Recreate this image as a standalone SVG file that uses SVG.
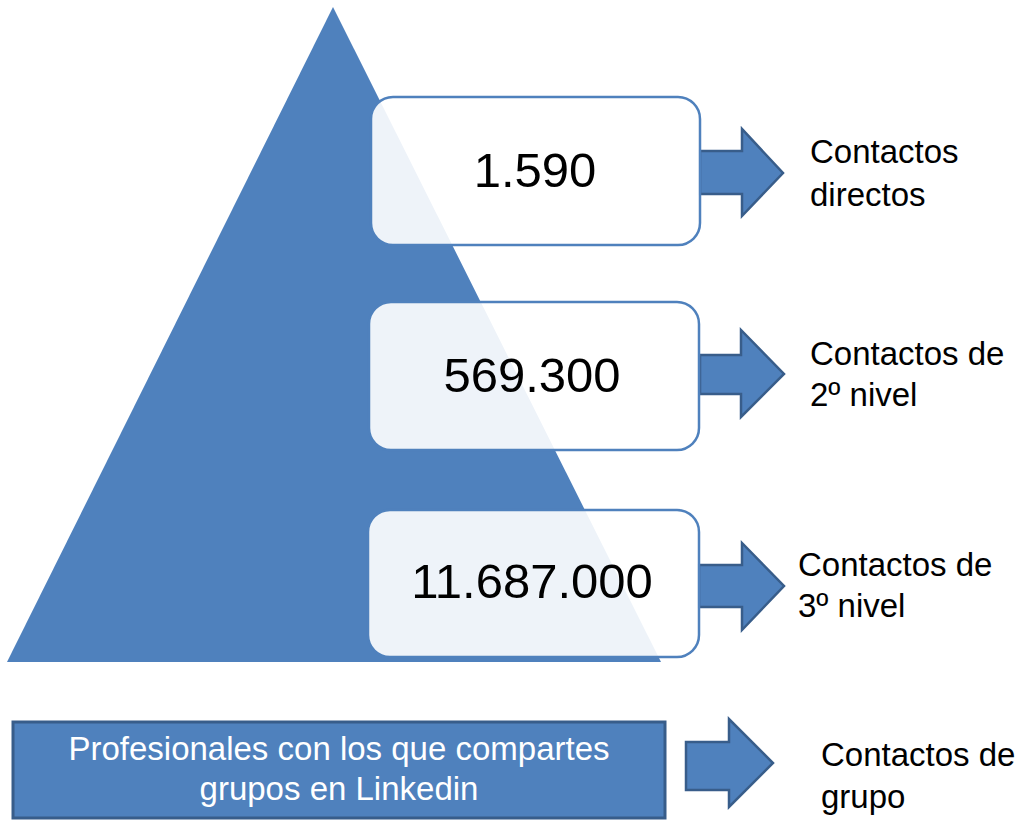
<svg xmlns="http://www.w3.org/2000/svg" width="1018" height="820" viewBox="0 0 1018 820">
<style>
.lbl{font-family:"Liberation Sans",Arial,sans-serif;font-size:33px;fill:#000}
.num{font-family:"Liberation Sans",Arial,sans-serif;font-size:49px;fill:#000;text-anchor:middle}
.box{fill:#fff;fill-opacity:0.9;stroke:#4F81BD;stroke-width:2.5}
.arr{fill:#4F81BD;stroke:#385D8A;stroke-width:2.5;stroke-linejoin:miter}
.wht{font-family:"Liberation Sans",Arial,sans-serif;font-size:33px;fill:#fff;text-anchor:middle}
</style>
<rect width="1018" height="820" fill="#fff"/>
<g id="pyramid">
<polygon points="333,7 7,662 661,662" fill="#4F81BD"/>
</g>
<g id="connectors">
<polygon class="arr" points="700,151 742,151 742,129 783,173 742,216 742,194 700,194"/>
<polygon class="arr" points="700,355 741,355 741,330 784,374 741,417 741,394 700,394"/>
<polygon class="arr" points="699,565 742,565 742,543 784,586 742,630 742,607 699,607"/>
<polygon class="arr" points="686,742 729,742 729,719 773,763 729,807 729,790 686,790"/>
</g>
<g id="box1">
<rect class="box" x="371" y="97" width="329" height="148" rx="22"/>
<text class="num" x="535" y="187">1.590</text>
</g>
<g id="box2">
<rect class="box" x="369" y="302" width="330" height="148" rx="22"/>
<text class="num" x="532" y="392">569.300</text>
</g>
<g id="box3">
<rect class="box" x="368" y="510" width="331" height="147" rx="22"/>
<text class="num" x="532" y="598">11.687.000</text>
</g>
<g id="label1">
<text class="lbl" x="810" y="163">Contactos</text>
<text class="lbl" x="810" y="206">directos</text>
</g>
<g id="label2">
<text class="lbl" x="810" y="365">Contactos de</text>
<text class="lbl" x="810" y="406">2º nivel</text>
</g>
<g id="label3">
<text class="lbl" x="798" y="576">Contactos de</text>
<text class="lbl" x="798" y="617">3º nivel</text>
</g>
<g id="groupbox">
<rect x="13" y="722" width="652" height="96" fill="#4F81BD" stroke="#385D8A" stroke-width="3"/>
<text class="wht" x="339" y="760">Profesionales con los que compartes</text>
<text class="wht" x="339" y="800">grupos en Linkedin</text>
</g>
<g id="label4">
<text class="lbl" x="821" y="766">Contactos de</text>
<text class="lbl" x="821" y="808">grupo</text>
</g>
</svg>
